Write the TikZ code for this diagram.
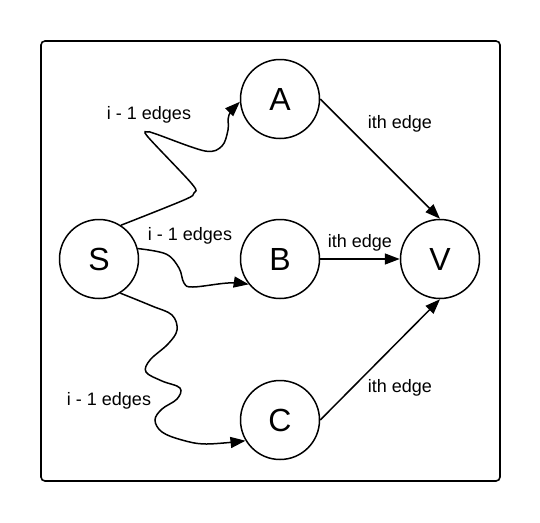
\documentclass[tikz,border=0pt]{standalone}
\usepackage{fontspec}
\setmainfont{Liberation Sans}
\usetikzlibrary{arrows.meta}
\begin{document}
\begin{tikzpicture}[x=1pt, y=-1pt, >={Triangle[length=15pt,width=11pt]},
        vertex/.style={draw, circle, line width=1.5pt, minimum size=79pt, inner sep=0pt, font=\fontsize{32}{32}\selectfont},
        lbl/.style={font=\fontsize{18}{18}\selectfont},
        walk/.style={->, line width=1.5pt}]
        \useasboundingbox (0,0) rectangle (540,522);
        \draw [line width=1.6pt, rounded corners=4pt] (41,41) rectangle (500,481);

        \node [vertex] (S) at (99,259) {S};
        \node [vertex] (A) at (280,99) {A};
        \node [vertex] (B) at (280,259) {B};
        \node [vertex] (C) at (280,420) {C};
        \node [vertex] (V) at (440,259) {V};

        % paths of i-1 edges
        \draw [walk] plot[smooth, tension=0.55] coordinates {(S.57) (184,200) (194,193) (192,184) (148,137) (148,132) (156,134) (205,151) (222,146) (228,130) (229,115) (A.184)};
        \draw [walk] plot[smooth, tension=0.6] coordinates {(S.15) (166,254) (179,268) (184,283) (193,287) (228,283) (B.219)};
        \draw [walk] plot[smooth, tension=0.6] coordinates {(S.-58) (152,306) (172,315) (177,330) (168,344) (150,360) (146,372) (162,381) (180,388) (177,399) (162,409) (155,420) (162,432) (182,440) (206,444) (C.211)};

        % ith edges
        \draw [walk] (A.east) -- (V.north);
        \draw [walk] (B) -- (V);
        \draw [walk] (C.east) -- (V.south);

        \node [lbl] (la) at (149,115) {i - 1 edges};
        \node [lbl] (lb) at (190,236) {i - 1 edges};
        \node [lbl] (lc) at (109,401) {i - 1 edges};
        \node [lbl] (ma) at (400,124) {ith edge};
        \node [lbl] (mb) at (360,243) {ith edge};
        \node [lbl] (mc) at (400,388) {ith edge};
\end{tikzpicture}
\end{document}
